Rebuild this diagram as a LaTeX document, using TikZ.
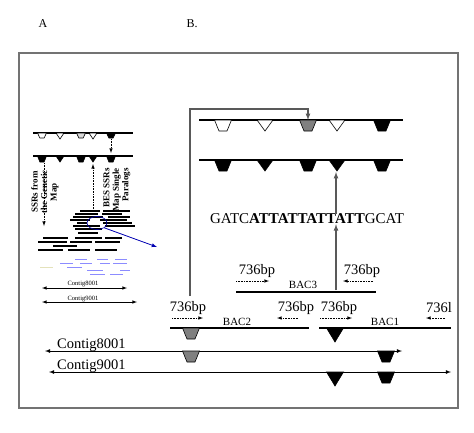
\documentclass[tikz,border=0pt]{standalone}
\usepackage{fontspec}
\setmainfont{Liberation Serif}
\usetikzlibrary{arrows,positioning,shapes}
\tikzstyle{frame}=[draw=black!55,line width=1.3pt]
\tikzstyle{chrom}=[line width=1.8pt]
\tikzstyle{contig}=[line width=.8pt,<->]
\tikzstyle{bp}=[densely dotted,line width=.6pt,->]
\tikzstyle{link}=[draw=black!65,line width=1.2pt,->]
\tikzstyle{big}=[inner sep=0,font=\fontsize{14.5}{17}\selectfont]
\tikzstyle{seq}=[inner sep=0,font=\fontsize{15}{18}\selectfont]
\tikzstyle{baclbl}=[inner sep=0,font=\fontsize{11}{13}\selectfont]
\tikzstyle{panel}=[inner sep=0,font=\fontsize{12}{14}\selectfont]
\tikzstyle{tiny}=[inner sep=0,font=\fontsize{6.5}{7}\selectfont]
\tikzstyle{side}=[inner sep=0,rotate=90,font=\bfseries\fontsize{9}{9.5}\selectfont]
\tikzstyle{bar}=[line width=1.5pt]
\tikzstyle{bluebar}=[line width=1pt,draw=blue!45]
\newcommand{\trapmk}[5]{\filldraw[draw=black,fill=#3,line width=.6pt] (#1-#4,#2) -- (#1+#4,#2) -- (#1+#4*.47,#2+#5) -- (#1-#4*.47,#2+#5) -- cycle;}
\newcommand{\trimk}[5]{\filldraw[draw=black,fill=#3,line width=.6pt] (#1-#4,#2) -- (#1+#4,#2) -- (#1,#2+#5) -- cycle;}
\begin{document}
\begin{tikzpicture}[x=1pt,y=-1pt,>=latex]
\useasboundingbox (0,0) rectangle (474,432);
\draw[frame] (19,53) rectangle (458,408);
\node[panel] (pa) at (43,24) {A};
\node[panel] (pb) at (192,24) {B.};

\coordinate (r1a) at (199,120); \coordinate (r1b) at (403,120);
\coordinate (r2a) at (199,160); \coordinate (r2b) at (403,160);
\draw[chrom] (r1a) -- (r1b);
\draw[chrom] (r2a) -- (r2b);
\trapmk{223}{120}{white}{8.5}{11}
\trimk{265}{120}{white}{8}{11}
\trapmk{308}{120}{black!50}{8.5}{11}
\trimk{337}{120}{white}{8}{11}
\trapmk{382}{120}{black}{8.5}{11}
\trapmk{223}{160}{black}{8.5}{11}
\trimk{265}{160}{black}{8}{11}
\trapmk{308}{160}{black}{8.5}{11}
\trimk{337}{160}{black}{8}{11}
\trapmk{382}{160}{black}{8.5}{11}

\coordinate (gray1) at (308,120);
\coordinate (brk) at (190,296);
\draw[link] (brk) -- ++(0,-187) -| (gray1);

\node[seq] (gatc) at (307,219) {GATC\textbf{ATTATTATTATT}GCAT};
\coordinate (tip2) at (336,172);
\coordinate (b3up) at (336,290);
\draw[link] (gatc.north -| tip2) -- (tip2);
\draw[link] (b3up) -- (b3up |- gatc.south);

\coordinate (b3a) at (236,292); \coordinate (b3b) at (376,292);
\draw[chrom] (b3a) -- (b3b);
\node[baclbl] (bac3) at (303,285) {BAC3};
\node[big] (p3l) at (257,271) {736bp};
\node[big] (p3r) at (362,271) {736bp};
\draw[bp] (236,281) -- (269,281);
\draw[bp] (373,281) -- (343,281);

\coordinate (b2a) at (170,328); \coordinate (b2b) at (309,328);
\coordinate (b1a) at (319,328); \coordinate (b1b) at (451,328);
\draw[chrom] (b2a) -- (b2b);
\draw[chrom] (b1a) -- (b1b);
\node[baclbl] (bac2) at (237,322) {BAC2};
\node[baclbl] (bac1) at (385,322) {BAC1};
\node[big] (p2l) at (188,308) {736bp};
\node[big] (p2r) at (296,308) {736bp};
\node[big] (p1l) at (339,308) {736bp};
\node[big] (p1r) at (439,308) {736l};
\draw[bp] (172,318) -- (203,318);
\draw[bp] (298,318) -- (277,318);
\draw[bp] (320,318) -- (352,318);
\draw[bp] (445,318) -- (426,318);
\trapmk{191}{328}{black!50}{8.5}{11}
\trimk{335}{328}{black}{8.5}{14}

\coordinate (c8a) at (45,351); \coordinate (c8b) at (402,351);
\coordinate (c9a) at (49,372); \coordinate (c9b) at (451,372);
\draw[contig] (c8a) -- (c8b);
\draw[contig] (c9a) -- (c9b);
\node[big,anchor=base west] (c8) at (57,348) {Contig8001};
\node[big,anchor=base west] (c9) at (57,369) {Contig9001};
\trapmk{191}{351}{black!50}{8.5}{11}
\trapmk{386}{351}{black}{8.5}{11}
\trimk{335}{372}{black}{8.5}{14}
\trapmk{386}{372}{black}{8.5}{11}

\coordinate (l1a) at (33,133); \coordinate (l1b) at (133,133);
\coordinate (l2a) at (33,156); \coordinate (l2b) at (133,156);
\draw[line width=1.3pt] (l1a) -- (l1b);
\draw[line width=1.3pt] (l2a) -- (l2b);
\trapmk{42}{133}{white}{4.5}{5}
\trimk{60}{133}{white}{4}{6}
\trapmk{81}{133}{black!15}{4.5}{5}
\trimk{93}{133}{white}{4}{6}
\trapmk{111}{133}{black}{4.5}{5}
\trapmk{42}{156}{black}{4.5}{6}
\trimk{60}{156}{black}{4}{6}
\trapmk{81}{156}{black}{4.5}{6}
\trimk{93}{156}{black}{4}{6}
\trapmk{111}{156}{black}{4.5}{6}
\coordinate (s1) at (111,139); \coordinate (s2) at (111,153);
\draw[bp] (s1) -- (s2);
\coordinate (g1) at (44,163); \coordinate (g2) at (44,226);
\draw[bp] (g1) -- (g2);
\coordinate (e1) at (93,209); \coordinate (e2) at (93,164);
\draw[bp] (e1) -- (e2);
\node[side,align=center] (ssr) at (45,192) {SSRs from\\the Genetic\\Map};
\node[side,align=right] (bes) at (117,190) {BES SSRs\\Map Single\\Paralogs};

\draw[bar] (80,211) -- (100,211) (103,211) -- (130,211)
  (75,214) -- (98,214) (102,214) -- (122,214)
  (73,217) -- (103,217) (108,217) -- (130,217)
  (70,220) -- (90,220) (100,220) -- (127,220)
  (77,223) -- (87,223) (103,223) -- (132,223)
  (73,226) -- (100,226) (105,226) -- (135,226)
  (75,229) -- (102,229)
  (78,233) -- (98,233)
  (43,238) -- (68,238) (75,238) -- (102,238) (105,238) -- (122,238)
  (38,242) -- (67,242) (70,242) -- (92,242) (95,242) -- (120,242)
  (53,246) -- (77,246)
  (38,250) -- (63,250) (68,250) -- (90,250) (95,250) -- (117,250);
\draw[bluebar] (75,259) -- (87,259) (97,259) -- (108,259) (115,259) -- (127,259)
  (60,263) -- (73,263) (80,263) -- (92,263) (100,263) -- (110,263) (113,263) -- (127,263)
  (67,267) -- (82,267)
  (87,270) -- (103,270) (120,270) -- (130,270)
  (90,274) -- (105,274) (110,274) -- (123,274);
\draw[yellow!60!black!30,line width=.8pt] (40,267) -- (53,267);
\node[draw=blue!70!black,line width=.6pt,ellipse,minimum width=20pt,minimum height=13pt,inner sep=0] (circ) at (97,223) {};
\coordinate (blu) at (157,247);
\draw[draw=blue!70!black,line width=.8pt,->] (circ.south east) -- (blu);

\coordinate (k8a) at (42,288); \coordinate (k8b) at (127,288);
\coordinate (k9a) at (42,302); \coordinate (k9b) at (137,302);
\draw[line width=.6pt,<->] (k8a) -- (k8b);
\draw[line width=.6pt,<->] (k9a) -- (k9b);
\node[tiny] (k8) at (83,284) {Contig8001};
\node[tiny] (k9) at (83,299) {Contig9001};
\end{tikzpicture}
\end{document}
